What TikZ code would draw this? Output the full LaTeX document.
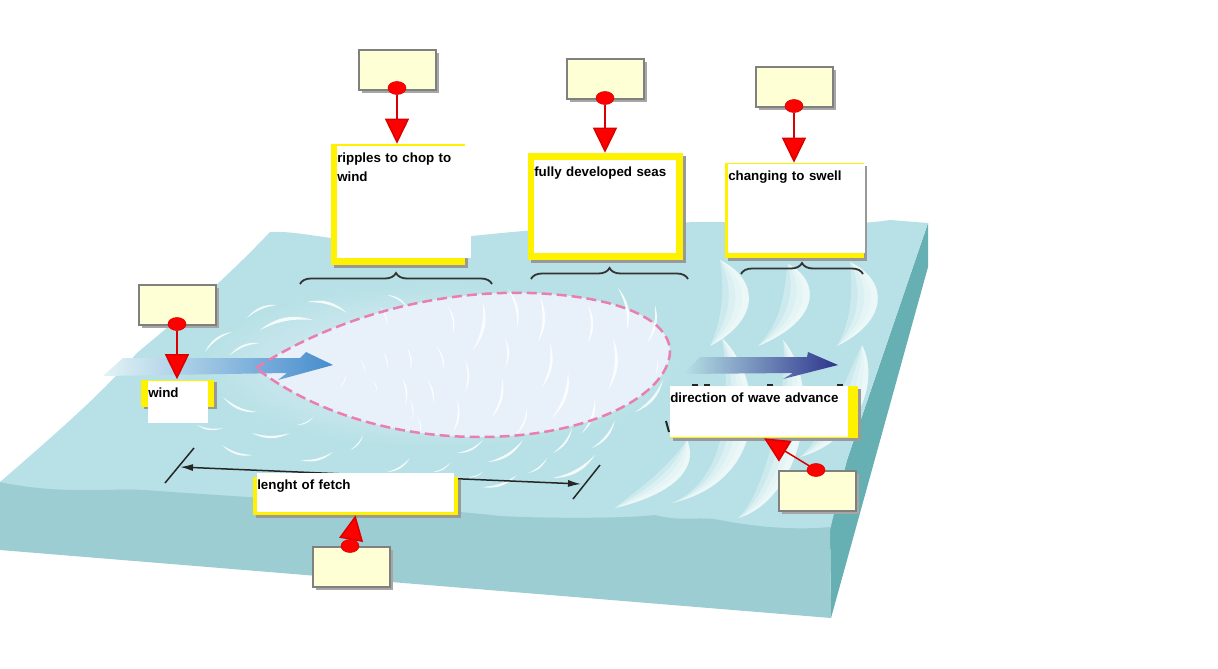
\documentclass[tikz,border=0pt]{standalone}
\usepackage{fontspec}
\setmainfont{Liberation Sans}
\usetikzlibrary{arrows.meta,shadows,shapes.geometric,decorations.pathreplacing}
\definecolor{seatop}{RGB}{183,225,230}
\definecolor{seafront}{RGB}{156,205,210}
\definecolor{seaside}{RGB}{102,175,179}
\definecolor{foam}{RGB}{232,240,250}
\definecolor{eggline}{RGB}{232,127,176}
\definecolor{cream}{RGB}{255,255,213}
\definecolor{windblue}{RGB}{70,140,205}
\definecolor{waveblue}{RGB}{44,52,140}
\newcommand{\px}{0.75pt}
\newcommand{\eggpath}{(256,368) .. controls (330,320) and (430,290) .. (530,293) .. controls (620,296) and (670,320) .. (670,352) .. controls (668,395) and (590,437) .. (480,437) .. controls (390,437) and (310,410) .. (256,368)}
\tikzset{
  calloutbox/.style={draw=gray,line width=2*\px,fill=cream,minimum width=77*\px,minimum height=40*\px,
    drop shadow={shadow xshift=2.5pt,shadow yshift=-2.5pt,fill=gray!70,opacity=1}},
  reddot/.style={ellipse,draw=red!85!black,fill=red,inner sep=0pt,minimum width=18*\px,minimum height=13*\px},
  pointer/.style={draw=red!85!black,line width=1.5*\px,-{Triangle[width=24*\px,length=25*\px,fill=red]}},
  yellowbox/.style={fill=yellow,inner sep=0pt,
    drop shadow={shadow xshift=2pt,shadow yshift=-2pt,fill=gray!80,opacity=1}},
  whitebox/.style={fill=white,anchor=north west,align=left,inner xsep=0pt,inner ysep=4.5pt,text height=7.5pt,
    font=\fontsize{10}{14.25}\selectfont\bfseries},
  crest/.style={fill=white,opacity=0.85},
  swell/.style={fill=white,opacity=0.3},
  curly/.style={draw=black!80,line width=1.8*\px,decorate},
}
\begin{document}
\begin{tikzpicture}[x=\px,y=-\px]
  \useasboundingbox (0,0) rectangle (1218,668);
  % block of sea
  \fill[seaside] (928,223) -- (928,267) -- (831,618) -- (830,527) -- (847,460) -- cycle;
  \fill[seatop] (0,482) .. controls (60,430) and (100,395) .. (137,353) .. controls (170,325) and (215,290) .. (270,232)
    .. controls (300,230) and (350,245) .. (400,243) .. controls (450,240) and (560,222) .. (723,222)
    .. controls (780,226) and (850,226) .. (890,220) -- (928,223) -- (847,460) -- (830,530) -- (500,530) -- (0,495) -- cycle;
  \fill[seafront] (0,482) .. controls (60,495) and (110,488) .. (145,490) .. controls (250,498) and (400,505) .. (500,516)
    .. controls (560,519) and (630,518) .. (655,515) .. controls (680,522) and (700,516) .. (720,520)
    .. controls (760,528) and (800,530) .. (830,527) -- (831,618) -- (0,550) -- cycle;
  % foam
  \shade[inner color=foam,outer color=seatop] (440,366) ellipse (240 and 82);
  \fill[foam] \eggpath;
  \foreach \xa/\ya/\xb/\yb in {247/318/277/305,307/302/347/313,387/295/408/308,260/330/313/320,205/352/232/332,230/355/260/343,
    257/412/223/397,223/428/197/425,290/433/252/433,253/455/222/445,333/452/300/460,363/435/350/450,313/417/297/425,
    410/458/387/472,450/463/433/472,
    380/307/387/327,448/307/453/333,407/348/410/370,383/352/387/370,437/347/443/370,360/360/365/373,372/380/377/392,
    402/378/405/405,427/380/433/403,410/400/412/420,417/417/420/433,346/373/340/387,
    508/289/517/328,540/297/538/342,588/305/588/343,618/288/627/330,655/305/647/343,483/302/473/350,505/338/505/368,
    550/343/542/387,613/338/608/390,657/360/655/375,465/360/465/392,502/378/492/417,568/372/552/418,457/400/453/432,
    527/408/515/435,595/398/582/433,663/380/635/412,572/428/553/453,615/420/592/448,523/440/488/462,483/440/457/453,
    547/458/528/473,595/455/553/478,517/475/482/487,483/472/467/477}
    \fill[crest] (\xa,\ya) to[bend left=28] (\xb,\yb) to[bend right=15] (\xa,\ya);
  % swells
  \foreach \xa/\ya/\xc/\yc/\xe/\ye/\xb/\yb in {720/260/760/280/760/320/710/346,788/264/820/280/822/320/758/346,
    850/262/888/280/890/320/837/346,687/440/700/470/670/495/615/508,722/338/765/380/770/480/672/503,
    783/340/825/390/800/500/738/518,862/345/880/380/860/440/800/457}
    \foreach \d in {36,27,18,9}
      \fill[swell] (\xa,\ya) .. controls (\xc,\yc) and (\xe,\ye) .. (\xb,\yb)
        .. controls ({\xe-\d},{\ye-3}) and ({\xc-\d},{\yc+3}) .. cycle;
  % arrows on the water
  \shade[left color=white!60!seatop,right color=windblue] (103,376) -- (123,358) -- (300,358) -- (306,352) -- (333,365) -- (278,380) -- (287,373) -- cycle;
  \shade[left color=seatop,right color=waveblue] (683,374) -- (700,357) -- (807,357) -- (808,352) -- (838,365) -- (783,379) -- (793,373) -- cycle;
  \draw[eggline,line width=2.5*\px,dash pattern=on 10*\px off 5*\px] \eggpath;
  % fetch
  \coordinate (fetchleft) at (180,467);
  \coordinate (fetchright) at (581,484);
  \coordinate (bara) at (165,483);
  \coordinate (barb) at (194,448);
  \coordinate (barc) at (573,499);
  \coordinate (bard) at (600,465);
  \draw[black!85,line width=1.5*\px] (bara) -- (barb);
  \draw[black!85,line width=1.5*\px] (barc) -- (bard);
  \draw[black!85,line width=1.5*\px,{Latex[length=13*\px,width=7*\px]}-{Latex[length=13*\px,width=7*\px]}] (fetchleft) -- (fetchright);
  % braces
  \draw[curly,decoration={brace,amplitude=11*\px}] (300,284) -- (492,284);
  \draw[curly,decoration={brace,amplitude=11*\px}] (531,279) -- (688,279);
  \draw[curly,decoration={brace,amplitude=11*\px}] (741,274) -- (863,274);
  % bits of print showing round the note
  \draw[black!85,line width=2*\px] (666,421) -- (669,432);
  \foreach \x in {692,704,767,837}
    \draw[black!85,line width=1.5*\px] (\x,385) -- ({\x+6},385);
  % notes
  \node[yellowbox,minimum width=134*\px,minimum height=121*\px] (ripples) at (398,204.5) {};
  \node[whitebox,text width=134*\px,text depth=112*\px-16.5pt] (ripplestext) at (337,146) {ripples to chop to\\wind};
  \node[yellowbox,minimum width=155*\px,minimum height=107*\px] (fully) at (605.5,206.5) {};
  \node[whitebox,text width=142*\px,text depth=93*\px-16.5pt] (fullytext) at (534,160) {fully developed seas};
  \node[yellowbox,minimum width=139*\px,minimum height=95*\px] (changing) at (794.5,210.5) {};
  \node[whitebox,text width=137*\px,text depth=89*\px-16.5pt] (changingtext) at (728,164) {changing to swell};
  \node[yellowbox,minimum width=73*\px,minimum height=27*\px] (windnote) at (177.5,393) {};
  \node[whitebox,text width=60*\px,text depth=42*\px-16.5pt] (windtext) at (148,381) {wind};
  \node[yellowbox,minimum width=205*\px,minimum height=38*\px] (fetch) at (355.5,496) {};
  \node[whitebox,text width=197*\px,text depth=39*\px-16.5pt] (fetchtext) at (257,473) {lenght of fetch};
  \node[yellowbox,minimum width=188*\px,minimum height=52*\px] (advance) at (764,412) {};
  \node[whitebox,text width=178*\px,text depth=51*\px-16.5pt] (advancetext) at (670,386) {direction of wave advance};
  % callouts
  \node[calloutbox] (boxa) at (397.5,69.5) {};
  \node[calloutbox] (boxb) at (605.5,79) {};
  \node[calloutbox] (boxc) at (794.5,87) {};
  \node[calloutbox] (boxd) at (177.5,305) {};
  \node[calloutbox] (boxe) at (351.5,567) {};
  \node[calloutbox] (boxf) at (817.5,491) {};
  \node[reddot] (dota) at (397,88) {};
  \node[reddot] (dotb) at (605,98) {};
  \node[reddot] (dotc) at (794,106) {};
  \node[reddot] (dotd) at (177,324) {};
  \node[reddot] (dote) at (350,546) {};
  \node[reddot] (dotf) at (816,470) {};
  \draw[pointer] (dota) -- (dota |- ripples.north);
  \draw[pointer] (dotb) -- (dotb |- fully.north);
  \draw[pointer] (dotc) -- (dotc |- changing.north);
  \draw[pointer] (dotd) -- (dotd |- windnote.north);
  \draw[pointer] (dote) -- (fetch.south);
  \draw[pointer] (dotf) -- (advance.south);
\end{tikzpicture}
\end{document}
